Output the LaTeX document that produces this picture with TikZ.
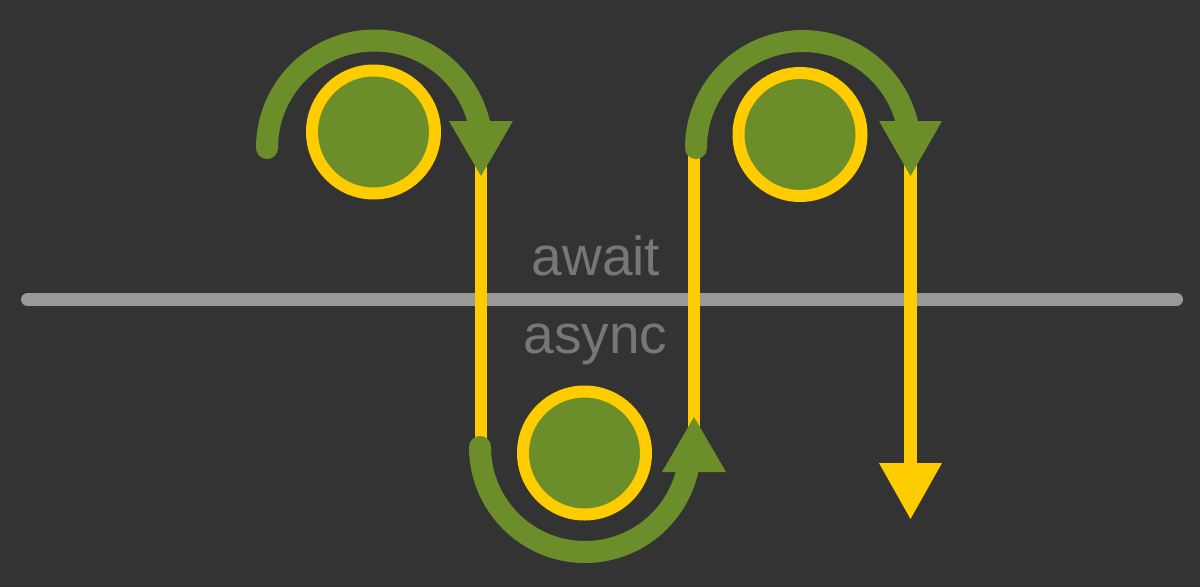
\documentclass[tikz,border=0pt]{standalone}
\usepackage{fontspec}
\setmainfont{Liberation Sans}
\definecolor{bg}{HTML}{333333}
\definecolor{leaf}{HTML}{6B8E2A}
\definecolor{gold}{HTML}{FFCC00}
\definecolor{rulegray}{HTML}{999999}
\definecolor{labelgray}{HTML}{777777}
\begin{document}
\begin{tikzpicture}[x=1pt,y=-1pt,
  ball/.style={circle,draw=gold,line width=12pt,fill=leaf,minimum size=123pt,inner sep=0pt},
  flow/.style={draw=gold,line width=12.5pt},
  loopline/.style={draw=leaf,line width=22pt,line cap=round},
  leafhead/.style={fill=leaf},
  goldhead/.style={fill=gold},
  divider/.style={draw=rulegray,line width=13pt,line cap=round},
  word/.style={text=labelgray,font=\fontsize{55}{60}\selectfont,anchor=base,inner sep=0pt}]
\fill[bg] (0,0) rectangle (1200,587);
\useasboundingbox (0,0) rectangle (1200,587);
% divider
\coordinate (dl) at (27.5,299.5);
\coordinate (dr) at (1176.5,299.5);
\draw[divider] (dl) -- (dr);
% labels
\node[word] (await) at (596,275) {await};
\node[word] (async) at (595.5,353) {async};
% yellow flow lines
\coordinate (l1a) at (481,165);
\coordinate (l1b) at (481,446);
\coordinate (l2a) at (694,440);
\coordinate (l2b) at (694,150);
\coordinate (l3a) at (910.5,165);
\coordinate (l3b) at (910.5,468);
\draw[flow] (l1a) -- (l1b);
\draw[flow] (l2a) -- (l2b);
\draw[flow] (l3a) -- (l3b);
\fill[goldhead] (879,463) -- (942,463) -- (910.5,519) -- cycle;
% circles
\node[ball] (c1) at (373.5,132) {};
\node[ball] (c2) at (800,134.5) {};
\node[ball] (c3) at (584.5,453) {};
% green loops
\coordinate (g1) at (267,148);
\coordinate (g2) at (480,447);
\coordinate (g3) at (696,148);
\draw[loopline] (g1) arc[start angle=180,end angle=360,radius=107.5];
\draw[loopline] (g2) arc[start angle=180,end angle=0,radius=105];
\draw[loopline] (g3) arc[start angle=180,end angle=360,radius=107];
\fill[leafhead] (449,121) -- (513,121) -- (481,176) -- cycle;
\fill[leafhead] (662,472) -- (726,472) -- (694,417) -- cycle;
\fill[leafhead] (879,121) -- (942,121) -- (910.5,176) -- cycle;
\end{tikzpicture}
\end{document}
